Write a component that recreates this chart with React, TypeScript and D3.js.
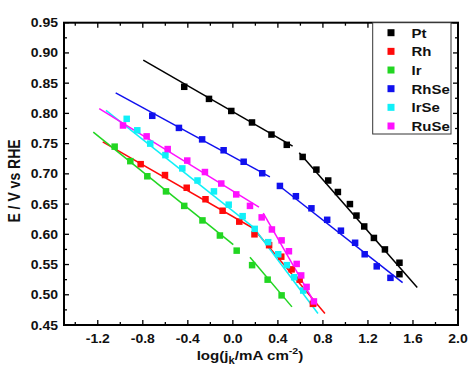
import React from 'react';
import * as d3 from 'd3';

// log(jk) vs E readings
const seriesNames = ['Pt', 'Rh', 'Ir', 'RhSe', 'IrSe', 'RuSe'];
const seriesColors = ['#000000', '#ff0a0a', '#22d622', '#1010ee', '#10f0f8', '#ff10ff'];

const ptPoints = [[-0.432, 0.844], [-0.212, 0.824], [-0.014, 0.804], [0.170, 0.785], [0.343, 0.765], [0.479, 0.748], [0.620, 0.728], [0.742, 0.707], [0.847, 0.689], [0.933, 0.670], [1.040, 0.650], [1.098, 0.631], [1.167, 0.613], [1.253, 0.594], [1.351, 0.575], [1.480, 0.553], [1.480, 0.534]];
const rhPoints = [[-0.819, 0.716], [-0.603, 0.698], [-0.410, 0.677], [-0.243, 0.658], [-0.091, 0.639], [0.057, 0.621], [0.192, 0.600], [0.322, 0.582], [0.430, 0.563], [0.522, 0.542], [0.593, 0.525], [0.711, 0.485]];
const irPoints = [[-1.050, 0.745], [-0.911, 0.721], [-0.760, 0.696], [-0.594, 0.671], [-0.432, 0.647], [-0.270, 0.623], [-0.115, 0.598], [0.034, 0.573], [0.171, 0.549], [0.309, 0.525], [0.433, 0.499]];
const rhSePoints = [[-0.716, 0.796], [-0.479, 0.776], [-0.273, 0.757], [-0.082, 0.739], [0.096, 0.720], [0.261, 0.701], [0.418, 0.680], [0.560, 0.663], [0.698, 0.643], [0.838, 0.624], [0.960, 0.606], [1.086, 0.586], [1.171, 0.567], [1.278, 0.547], [1.400, 0.528]];
const irSePoints = [[-0.943, 0.791], [-0.849, 0.772], [-0.734, 0.750], [-0.599, 0.731], [-0.449, 0.709], [-0.314, 0.689], [-0.168, 0.671], [-0.037, 0.649], [0.087, 0.630], [0.194, 0.609], [0.314, 0.587], [0.403, 0.567], [0.480, 0.549], [0.545, 0.529], [0.625, 0.507]];
const ruSePoints = [[-0.976, 0.780], [-0.766, 0.762], [-0.579, 0.741], [-0.405, 0.722], [-0.248, 0.703], [-0.103, 0.684], [0.030, 0.666], [0.152, 0.647], [0.256, 0.628], [0.347, 0.608], [0.433, 0.590], [0.498, 0.572], [0.567, 0.551], [0.607, 0.532], [0.655, 0.513], [0.720, 0.489]];

// Tafel fit segments (two per catalyst)
const ptFits = [[[-0.796, 0.888], [0.531, 0.746]], [[0.590, 0.735], [1.638, 0.512]]];
const rhFits = [[[-1.156, 0.753], [0.181, 0.610]], [[0.181, 0.610], [0.818, 0.469]]];
const irFits = [[[-1.240, 0.769], [0.004, 0.583]], [[0.152, 0.562], [0.525, 0.480]]];
const rhSeFits = [[[-1.041, 0.834], [0.329, 0.695]], [[0.400, 0.682], [1.508, 0.520]]];
const irSeFits = [[[-1.127, 0.805], [0.181, 0.612]], [[0.181, 0.612], [0.756, 0.469]]];
const ruSeFits = [[[-1.187, 0.808], [0.232, 0.645]], [[0.270, 0.635], [0.744, 0.481]]];

const allPoints = [ptPoints, rhPoints, irPoints, rhSePoints, irSePoints, ruSePoints];
const allFits = [ptFits, rhFits, irFits, rhSeFits, irSeFits, ruSeFits];

const xTickLabels = ['-1.2', '-0.8', '-0.4', '0.0', '0.4', '0.8', '1.2', '1.6', '2.0'];
const yTickLabels = ['0.45', '0.50', '0.55', '0.60', '0.65', '0.70', '0.75', '0.80', '0.85', '0.90', '0.95'];

const FONT = '"Liberation Sans", Arial, sans-serif';

export default function App() {
  const x = d3.scaleLinear().domain([-1.5, 2.0]).range([64, 458]);
  const y = d3.scaleLinear().domain([0.45, 0.95]).range([325, 22.7]);
  const [x0, x1] = x.range();
  const [y0, y1] = y.range();

  const line = d3.line<number[]>().x(d => x(d[0])).y(d => y(d[1]));

  const xMinor = d3.range(-1.4, 2.0001, 0.2);
  const yMinor = d3.range(0.45, 0.9501, 0.025);

  const m = 6.5; // marker size
  const sx = 1.12; // image is a bit wide, stretch text

  return (
    <svg width={474} height={374} style={{ position: 'absolute', left: 0, top: 0, background: '#fff' }}
      fontFamily={FONT} fontWeight="bold">
      {/* fit lines */}
      {allFits.map((segs, i) => segs.map((s, j) => (
        <path key={`f${i}-${j}`} d={line(s) || ''} fill="none" stroke={seriesColors[i]} strokeWidth={1.5} />
      )))}
      {/* data points */}
      {allPoints.map((pts, i) => pts.map((p, j) => (
        <rect key={`p${i}-${j}`} x={x(p[0]) - m / 2} y={y(p[1]) - m / 2} width={m} height={m} fill={seriesColors[i]} />
      )))}

      {/* minor + major ticks, all four sides, pointing inward */}
      {xMinor.map((v, i) => {
        const major = Math.abs(Math.round(v * 10) % 4) === 0;
        const len = major ? 5 : 3;
        return (
          <g key={`xt${i}`} stroke="#000" strokeWidth={1.3}>
            <line x1={x(v)} x2={x(v)} y1={y0} y2={y0 - len} />
            <line x1={x(v)} x2={x(v)} y1={y1} y2={y1 + len} />
          </g>
        );
      })}
      {yMinor.map((v, i) => {
        const len = i % 2 === 0 ? 5 : 3;
        return (
          <g key={`yt${i}`} stroke="#000" strokeWidth={1.3}>
            <line x1={x0} x2={x0 + len} y1={y(v)} y2={y(v)} />
            <line x1={x1} x2={x1 - len} y1={y(v)} y2={y(v)} />
          </g>
        );
      })}

      <rect x={x0} y={y1} width={x1 - x0} height={y0 - y1} fill="none" stroke="#000" strokeWidth={2} />

      {/* tick labels */}
      {xTickLabels.map(t => (
        <text key={`xl${t}`} transform={`translate(${x(+t)},${y0 + 18}) scale(${sx},1)`}
          textAnchor="middle" fontSize={12.5} fill="#111">{t}</text>
      ))}
      {yTickLabels.map(t => (
        <text key={`yl${t}`} transform={`translate(${x0 - 6},${y(+t) + 4.5}) scale(${sx},1)`}
          textAnchor="end" fontSize={12.5} fill="#111">{t}</text>
      ))}

      {/* axis titles */}
      <text transform={`translate(250,360) scale(${sx},1)`} textAnchor="middle" fontSize={13.5} fill="#111">
        log(j<tspan fontSize={10} dy={4}>k</tspan><tspan dy={-4}>/mA cm</tspan>
        <tspan fontSize={9.5} dy={-6}>-2</tspan><tspan dy={6}>)</tspan>
      </text>
      <text transform={`translate(20,181) rotate(-90) scale(1,${sx})`} textAnchor="middle" fontSize={14} fill="#111">
        E / V vs RHE
      </text>

      {/* legend */}
      <rect x={372.7} y={y1} width={78.3} height={111.3} fill="#fff" stroke="#333" strokeWidth={1} />
      {seriesNames.map((n, i) => {
        const ly = 32.7 + i * 18.66;
        return (
          <g key={`lg${n}`}>
            <rect x={391 - 3.5} y={ly - 3.5} width={7} height={7} fill={seriesColors[i]} />
            <text transform={`translate(411.5,${ly + 5}) scale(1.15,1)`} fontSize={13} fill="#111">{n}</text>
          </g>
        );
      })}
    </svg>
  );
}
